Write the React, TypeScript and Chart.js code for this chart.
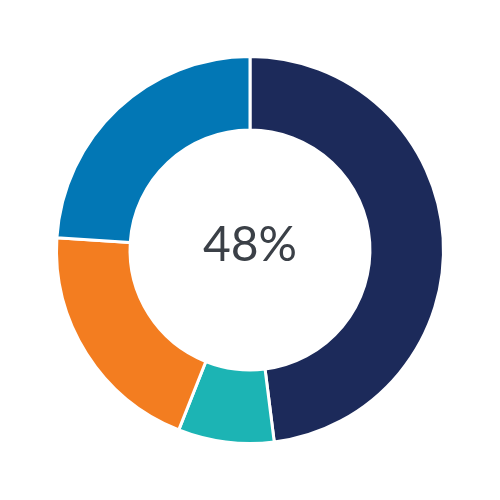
import { useEffect, useRef } from 'react';
import { Chart, registerables } from 'chart.js';

Chart.register(...registerables);

// segment labels and shares (percent), clockwise from 12 o'clock
const labels = ['Navy', 'Teal', 'Orange', 'Blue'];
const values = [48, 8, 20, 24];
const colors = ['#1c2a5a', '#1cb4b4', '#f37d20', '#0277b5'];
const centerLabel = '48%';

const App = () => {
  const canvasRef = useRef<HTMLCanvasElement | null>(null);
  const chartRef = useRef<Chart | null>(null);

  useEffect(() => {
    if (!canvasRef.current) return;
    chartRef.current = new Chart(canvasRef.current, {
      type: 'doughnut',
      data: {
        labels,
        datasets: [
          {
            data: values,
            backgroundColor: colors,
            borderColor: '#ffffff',
            borderWidth: 3,
          },
        ],
      },
      options: {
        responsive: true,
        maintainAspectRatio: false,
        animation: false,
        cutout: '62%',
        layout: { padding: 55 },
        plugins: {
          legend: { display: false },
          tooltip: { enabled: false },
        },
      },
    });
    return () => {
      chartRef.current?.destroy();
      chartRef.current = null;
    };
  }, []);

  return (
    <div style={{ position: 'absolute', left: 0, top: 0, width: 500, height: 500, background: '#fff' }}>
      <canvas ref={canvasRef} />
      <div
        style={{
          position: 'absolute',
          left: 0,
          top: -8,
          width: 500,
          height: 500,
          display: 'flex',
          alignItems: 'center',
          justifyContent: 'center',
          fontFamily: 'Lato, "Open Sans", sans-serif',
          fontSize: 48,
          color: '#3b4047',
          pointerEvents: 'none',
        }}
      >
        {centerLabel}
      </div>
    </div>
  );
};

export default App;
